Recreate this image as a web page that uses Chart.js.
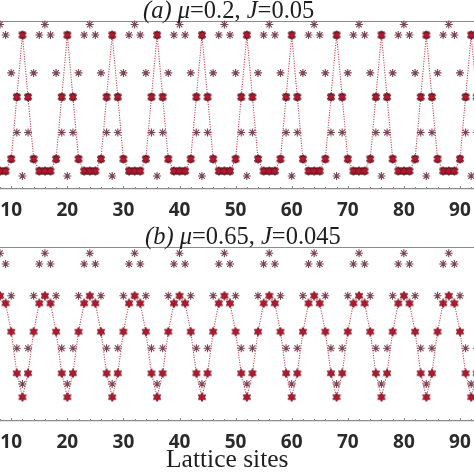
<!DOCTYPE html>
<html>
<head>
<meta charset="utf-8">
<script src="https://cdn.jsdelivr.net/npm/chart.js@4.4.1/dist/chart.umd.min.js"></script>
<style>
  body { margin: 0; background: #fff; }
  #wrap { position: relative; width: 474px; height: 474px; overflow: hidden; }
  canvas { position: absolute; left: 0; }
  .txt {
    position: absolute;
    font-family: "Liberation Serif", "Times New Roman", serif;
    font-size: 24.5px;
    line-height: 1;
    color: #1e1e1e;
    white-space: nowrap;
  }
</style>
</head>
<body>
<div id="wrap">
  <canvas id="panelA" width="474" height="222" style="top:0"></canvas>
  <canvas id="panelB" width="474" height="228" style="top:226px"></canvas>
  <div class="txt" style="left:143px; top:-2px;"><i>(a)</i> <i>μ</i>=0.2, <i>J</i>=0.05</div>
  <div class="txt" style="left:145px; top:224px;"><i>(b)</i> <i>μ</i>=0.65, <i>J</i>=0.045</div>
  <div class="txt" style="left:166px; top:446px; font-size:25.5px;">Lattice sites</div>
</div>
<script>
// lattice sites shown in the window
const sites = [
  6, 7, 8, 9, 10, 11, 12, 13,
  14, 15, 16, 17, 18, 19, 20, 21,
  22, 23, 24, 25, 26, 27, 28, 29,
  30, 31, 32, 33, 34, 35, 36, 37,
  38, 39, 40, 41, 42, 43, 44, 45,
  46, 47, 48, 49, 50, 51, 52, 53,
  54, 55, 56, 57, 58, 59, 60, 61,
  62, 63, 64, 65, 66, 67, 68, 69,
  70, 71, 72, 73, 74, 75, 76, 77,
  78, 79, 80, 81, 82, 83, 84, 85,
  86, 87, 88, 89, 90, 91, 92, 93,
  94,
];

// (a) mu=0.2, J=0.05 : stars with dotted line
const lineA = [
  0.179, 0.107, 0.107, 0.107, 0.179, 0.549, 0.919, 0.549,
  0.179, 0.107, 0.107, 0.107, 0.179, 0.549, 0.919, 0.549,
  0.179, 0.107, 0.107, 0.107, 0.179, 0.549, 0.919, 0.549,
  0.179, 0.107, 0.107, 0.107, 0.179, 0.549, 0.919, 0.549,
  0.179, 0.107, 0.107, 0.107, 0.179, 0.549, 0.919, 0.549,
  0.179, 0.107, 0.107, 0.107, 0.179, 0.549, 0.919, 0.549,
  0.179, 0.107, 0.107, 0.107, 0.179, 0.549, 0.919, 0.549,
  0.179, 0.107, 0.107, 0.107, 0.179, 0.549, 0.919, 0.549,
  0.179, 0.107, 0.107, 0.107, 0.179, 0.549, 0.919, 0.549,
  0.179, 0.107, 0.107, 0.107, 0.179, 0.549, 0.919, 0.549,
  0.179, 0.107, 0.107, 0.107, 0.179, 0.549, 0.919, 0.549,
  0.179,
];

// (a) asterisks
const starA = [
  0.693, 0.919, 0.982, 0.919, 0.693, 0.337, 0.078, 0.337,
  0.693, 0.919, 0.982, 0.919, 0.693, 0.337, 0.078, 0.337,
  0.693, 0.919, 0.982, 0.919, 0.693, 0.337, 0.078, 0.337,
  0.693, 0.919, 0.982, 0.919, 0.693, 0.337, 0.078, 0.337,
  0.693, 0.919, 0.982, 0.919, 0.693, 0.337, 0.078, 0.337,
  0.693, 0.919, 0.982, 0.919, 0.693, 0.337, 0.078, 0.337,
  0.693, 0.919, 0.982, 0.919, 0.693, 0.337, 0.078, 0.337,
  0.693, 0.919, 0.982, 0.919, 0.693, 0.337, 0.078, 0.337,
  0.693, 0.919, 0.982, 0.919, 0.693, 0.337, 0.078, 0.337,
  0.693, 0.919, 0.982, 0.919, 0.693, 0.337, 0.078, 0.337,
  0.693, 0.919, 0.982, 0.919, 0.693, 0.337, 0.078, 0.337,
  0.693,
];

// (b) mu=0.65, J=0.045 : stars with dotted line
const lineB = [
  0.515, 0.678, 0.722, 0.678, 0.515, 0.275, 0.137, 0.275,
  0.515, 0.678, 0.722, 0.678, 0.515, 0.275, 0.137, 0.275,
  0.515, 0.678, 0.722, 0.678, 0.515, 0.275, 0.137, 0.275,
  0.515, 0.678, 0.722, 0.678, 0.515, 0.275, 0.137, 0.275,
  0.515, 0.678, 0.722, 0.678, 0.515, 0.275, 0.137, 0.275,
  0.515, 0.678, 0.722, 0.678, 0.515, 0.275, 0.137, 0.275,
  0.515, 0.678, 0.722, 0.678, 0.515, 0.275, 0.137, 0.275,
  0.515, 0.678, 0.722, 0.678, 0.515, 0.275, 0.137, 0.275,
  0.515, 0.678, 0.722, 0.678, 0.515, 0.275, 0.137, 0.275,
  0.515, 0.678, 0.722, 0.678, 0.515, 0.275, 0.137, 0.275,
  0.515, 0.678, 0.722, 0.678, 0.515, 0.275, 0.137, 0.275,
  0.515,
];

// (b) asterisks
const starB = [
  0.722, 0.905, 0.967, 0.905, 0.722, 0.419, 0.213, 0.419,
  0.722, 0.905, 0.967, 0.905, 0.722, 0.419, 0.213, 0.419,
  0.722, 0.905, 0.967, 0.905, 0.722, 0.419, 0.213, 0.419,
  0.722, 0.905, 0.967, 0.905, 0.722, 0.419, 0.213, 0.419,
  0.722, 0.905, 0.967, 0.905, 0.722, 0.419, 0.213, 0.419,
  0.722, 0.905, 0.967, 0.905, 0.722, 0.419, 0.213, 0.419,
  0.722, 0.905, 0.967, 0.905, 0.722, 0.419, 0.213, 0.419,
  0.722, 0.905, 0.967, 0.905, 0.722, 0.419, 0.213, 0.419,
  0.722, 0.905, 0.967, 0.905, 0.722, 0.419, 0.213, 0.419,
  0.722, 0.905, 0.967, 0.905, 0.722, 0.419, 0.213, 0.419,
  0.722, 0.905, 0.967, 0.905, 0.722, 0.419, 0.213, 0.419,
  0.722,
];

const xMin = 8;
const xMax = 92.5;

// small marker images
function makeHexagram(size, fill, stroke) {
  const c = document.createElement("canvas");
  c.width = size;
  c.height = size;
  const g = c.getContext("2d");
  const cx = size / 2;
  const r = size / 2 - 0.6;
  g.beginPath();
  for (let k = 0; k < 12; k++) {
    const ang = -Math.PI / 2 + (k * Math.PI) / 6;
    const rr = k % 2 === 0 ? r : r * 0.58;
    const px = cx + rr * Math.cos(ang);
    const py = cx + rr * Math.sin(ang);
    if (k === 0) g.moveTo(px, py);
    else g.lineTo(px, py);
  }
  g.closePath();
  g.fillStyle = fill;
  g.fill();
  g.strokeStyle = stroke;
  g.lineWidth = 0.7;
  g.stroke();
  return c;
}

function makeHourglass(size, fill) {
  const c = document.createElement("canvas");
  c.width = size;
  c.height = size;
  const g = c.getContext("2d");
  g.fillStyle = fill;
  g.beginPath();
  g.moveTo(0.5, 0.5);
  g.lineTo(size - 0.5, 0.5);
  g.lineTo(size / 2, size / 2);
  g.closePath();
  g.moveTo(0.5, size - 0.5);
  g.lineTo(size - 0.5, size - 0.5);
  g.lineTo(size / 2, size / 2);
  g.closePath();
  g.fill();
  return c;
}

const redStar = makeHexagram(10, "#b3182c", "#6a0c18");
const blackGlass = makeHourglass(8, "#151515");

const framePlugin = {
  id: "frame",
  beforeDatasetsDraw(chart) {
    const { ctx, chartArea: a, scales } = chart;
    const x = scales.x;
    ctx.save();
    ctx.strokeStyle = "#8c8c8c";
    ctx.lineWidth = 1.2;
    ctx.beginPath();
    ctx.moveTo(a.left, a.top);
    ctx.lineTo(a.right, a.top);
    ctx.stroke();
    ctx.lineWidth = 1;
    ctx.beginPath();
    for (let v = 8; v <= 92; v += 2) {
      const px = Math.round(x.getPixelForValue(v)) + 0.5;
      ctx.moveTo(px, a.bottom);
      ctx.lineTo(px, a.bottom - (v % 10 === 0 ? 3 : 2));
    }
    ctx.stroke();
    ctx.restore();
  },
};

const toPoints = (vals) => sites.map((s, i) => ({ x: s, y: vals[i] }));

const createPanel = (context, lineVals, starVals, withBlack) => {
  const datasets = [
    {
      data: toPoints(lineVals),
      showLine: true,
      borderColor: "#c84a5c",
      borderWidth: 1.1,
      borderDash: [1.2, 1.3],
      pointStyle: redStar,
      pointRadius: 5,
      tension: 0,
      clip: false,
    },
  ];
  if (withBlack) {
    datasets.push({
      data: toPoints(lineVals),
      showLine: false,
      pointStyle: blackGlass,
      pointRadius: 4,
      clip: false,
    });
  }
  datasets.push({
    data: toPoints(starVals),
    showLine: false,
    pointStyle: "star",
    pointRadius: 4,
    borderColor: "#7b4654",
    backgroundColor: "#7b4654",
    borderWidth: 1.1,
    clip: false,
  });

  return new Chart(context, {
    type: "scatter",
    data: { datasets: datasets },
    options: {
      responsive: false,
      animation: false,
      events: [],
      layout: {
        autoPadding: false,
        padding: { top: 21.5, left: 0, right: 0, bottom: 0 },
      },
      plugins: {
        legend: { display: false },
        tooltip: { enabled: false },
      },
      scales: {
        x: {
          type: "linear",
          min: xMin,
          max: xMax,
          grid: { display: false },
          border: { display: true, color: "#8c8c8c", width: 1.2 },
          ticks: {
            stepSize: 10,
            includeBounds: false,
            color: "#2b2b2b",
            padding: 2,
            maxRotation: 0,
            font: { family: "'Open Sans', sans-serif", size: 19, weight: "bold" },
          },
          afterFit: (scale) => {
            scale.height = 33;
            scale.paddingLeft = 0;
            scale.paddingRight = 0;
          },
        },
        y: {
          display: false,
          min: 0,
          max: 1,
        },
      },
    },
    plugins: [framePlugin],
  });
};

const panelA = document.getElementById("panelA").getContext("2d");
const panelB = document.getElementById("panelB").getContext("2d");

createPanel(panelA, lineA, starA, true);
createPanel(panelB, lineB, starB, false);
</script>
</body>
</html>
